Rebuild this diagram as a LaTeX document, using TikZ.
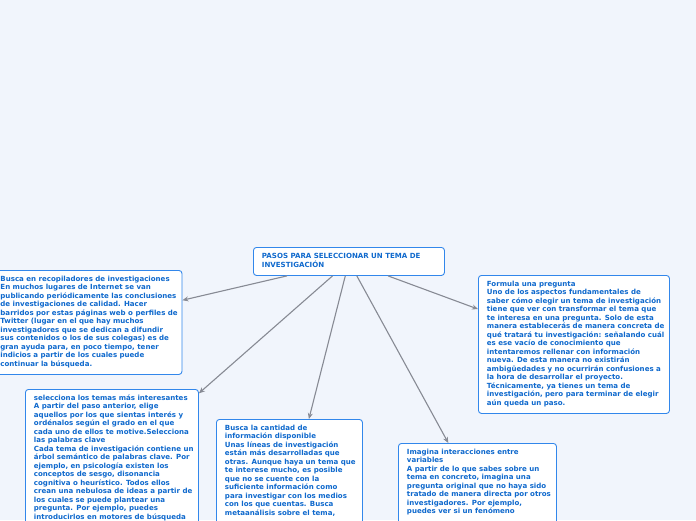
\documentclass[tikz,border=0pt]{standalone}
\usepackage{fontspec}
\setmainfont{DejaVu Sans}
\usetikzlibrary{arrows.meta}
\definecolor{bg}{RGB}{241,245,252}
\definecolor{bd}{RGB}{50,135,235}
\definecolor{tx}{RGB}{15,105,205}
\definecolor{ln}{RGB}{135,138,148}
\tikzset{
  box/.style={draw=bd, fill=white, line width=0.9pt, rounded corners=3pt, anchor=north west,
    inner xsep=8.5pt, inner ysep=5pt, font=\bfseries\fontsize{7.05}{8.5}\selectfont, text=tx},
  conn/.style={draw=ln, line width=1.1pt, -{Stealth[length=6pt,width=5pt]}}
}
\newcommand\boxtxt[3]{\parbox[t][#2][t]{#1}{\begin{tabular}[t]{@{}l@{}}#3\end{tabular}}}
\begin{document}
\begin{tikzpicture}[x=1pt,y=-1pt]
\useasboundingbox (0,0) rectangle (696,520);
\fill[bg] (0,0) rectangle (696,520);
\begin{scope}
\clip (0,0) rectangle (696,520);
\node[box] (c) at (253,247) {\boxtxt{174pt}{18pt}{PASOS PARA SELECCIONAR UN TEMA DE\\[0.4pt] INVESTIGACIÓN}};
\node[box] (b1) at (-8.5,270) {\boxtxt{173pt}{94pt}{Busca en recopiladores de investigaciones\\
En muchos lugares de Internet se van\\
publicando periódicamente las conclusiones\\
de investigaciones de calidad. Hacer\\
barridos por estas páginas web o perfiles de\\
Twitter (lugar en el que hay muchos\\
investigadores que se dedican a difundir\\
sus contenidos o los de sus colegas) es de\\
gran ayuda para, en poco tiempo, tener\\
indicios a partir de los cuales puede\\
continuar la búsqueda.}};
\node[box] (b5) at (478,275) {\boxtxt{174pt}{128pt}{Formula una pregunta\\
Uno de los aspectos fundamentales de\\
saber cómo elegir un tema de investigación\\
tiene que ver con transformar el tema que\\
te interesa en una pregunta. Solo de esta\\
manera establecerás de manera concreta de\\
qué tratará tu investigación: señalando cuál\\
es ese vacío de conocimiento que\\
intentaremos rellenar con información\\
nueva. De esta manera no existirán\\
ambigüedades y no ocurrirán confusiones a\\
la hora de desarrollar el proyecto.\\
Técnicamente, ya tienes un tema de\\
investigación, pero para terminar de elegir\\
aún queda un paso.}};
\node[box] (b2) at (25,389) {\boxtxt{156pt}{150pt}{selecciona los temas más interesantes\\
A partir del paso anterior, elige\\
aquellos por los que sientas interés y\\
ordénalos según el grado en el que\\
cada uno de ellos te motive.Selecciona\\
las palabras clave\\
Cada tema de investigación contiene un\\
árbol semántico de palabras clave. Por\\
ejemplo, en psicología existen los\\
conceptos de sesgo, disonancia\\
cognitiva o heurístico. Todos ellos\\
crean una nebulosa de ideas a partir de\\
los cuales se puede plantear una\\
pregunta. Por ejemplo, puedes\\
introducirlos en motores de búsqueda}};
\node[box] (b3) at (216,419) {\boxtxt{129pt}{142pt}{Busca la cantidad de\\
información disponible\\
Unas líneas de investigación\\
están más desarrolladas que\\
otras. Aunque haya un tema que\\
te interese mucho, es posible\\
que no se cuente con la\\
suficiente información como\\
para investigar con los medios\\
con los que cuentas. Busca\\
metaanálisis sobre el tema,}};
\node[box] (b4) at (398,443) {\boxtxt{141pt}{96pt}{Imagina interacciones entre\\
variables\\
A partir de lo que sabes sobre un\\
tema en concreto, imagina una\\
pregunta original que no haya sido\\
tratado de manera directa por otros\\
investigadores. Por ejemplo,\\
puedes ver si un fenómeno}};
\draw[conn] (c) -- (b1);
\draw[conn] (c) -- (b2);
\draw[conn] (c) -- (b3);
\draw[conn] (c) -- (b4);
\draw[conn] (c) -- (b5);
\end{scope}
\end{tikzpicture}
\end{document}
